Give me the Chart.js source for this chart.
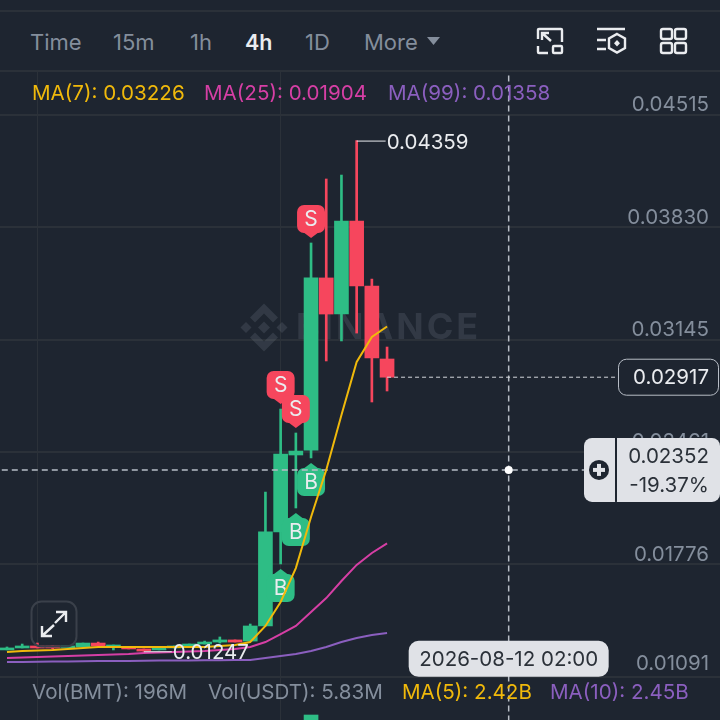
<!DOCTYPE html>
<html>
<head>
<meta charset="utf-8">
<script src="https://cdn.jsdelivr.net/npm/chart.js@4"></script>
<style>
  html, body { margin: 0; padding: 0; background: #1e2530; }
  body { width: 720px; height: 720px; position: relative; overflow: hidden; font-family: Inter, sans-serif; }
  #chartBox { position: absolute; left: 0; top: 72px; width: 720px; height: 648px; }
  .topline { position: absolute; left: 0; width: 720px; height: 2px; background: #2b3139; }
  .t { position: absolute; white-space: nowrap; line-height: 24px; }
  .tab { top: 30px; font-size: 22px; color: #848e9c; }
  .leg { font-size: 20.6px; }
  svg.ic { position: absolute; }
</style>
</head>
<body>
<div id="chartBox"><canvas id="myChart" width="720" height="648"></canvas></div>

<div class="topline" style="top:10px"></div>
<div class="topline" style="top:70px"></div>

<span class="t tab" style="left:30px">Time</span>
<span class="t tab" style="left:113px">15m</span>
<span class="t tab" style="left:190px">1h</span>
<span class="t tab" style="left:245px;color:#eaecef;font-weight:600;font-size:21.5px">4h</span>
<span class="t tab" style="left:305px">1D</span>
<span class="t tab" style="left:364px">More</span>
<svg class="ic" style="left:426px;top:37px" width="15" height="9"><path d="M1 0H14L7.5 8Z" fill="#848e9c"/></svg>

<svg class="ic" style="left:530px;top:22px" width="165" height="38" fill="none" stroke="#eaecef" stroke-width="2.4">
  <path d="M8 17V7.5Q8 7 9 7H31Q32 7 32 8V20M8 24V30Q8 31 9 31H18"/>
  <rect x="23" y="24" width="9" height="7" rx="1"/>
  <path d="M21 19L12 11M12 18V11H19"/>
  <path d="M67 7H95M67 18H76M67 27H76"/>
  <path d="M87 12L95 16.5V26L87 30.5L79 26V16.5Z"/>
  <path d="M87 18L90 21.3L87 24.5L84 21.3Z" fill="#eaecef" stroke="none"/>
  <rect x="131" y="7" width="11" height="10" rx="2"/>
  <rect x="145" y="7" width="11" height="10" rx="2"/>
  <rect x="131" y="21" width="11" height="10" rx="2"/>
  <rect x="145" y="21" width="11" height="10" rx="2"/>
</svg>

<span class="t leg" style="left:32px;top:81px;color:#f0b90b">MA(7): 0.03226</span>
<span class="t leg" style="left:204px;top:81px;color:#d63fa5">MA(25): 0.01904</span>
<span class="t leg" style="left:388px;top:81px;color:#8b5fbf">MA(99): 0.01358</span>

<span class="t leg" style="left:32px;top:680px;color:#848e9c">Vol(BMT): 196M</span>
<span class="t leg" style="left:208px;top:680px;color:#848e9c">Vol(USDT): 5.83M</span>
<span class="t leg" style="left:402px;top:680px;color:#f0b90b">MA(5): 2.42B</span>
<span class="t leg" style="left:550px;top:680px;color:#8b5fbf">MA(10): 2.45B</span>

<svg class="ic" style="left:30px;top:600px" width="48" height="48" fill="none">
  <rect x="1.5" y="1.5" width="45" height="45" rx="10" stroke="#3a404a" stroke-width="2"/>
  <path d="M12 36L24 25M12 26V36H22M36 12L25 23M26 12H36V22" stroke="#eaecef" stroke-width="2.4"/>
</svg>

<script>
// candles, oldest first
const times = ['07-29 14:00', '07-29 18:00', '07-29 22:00', '07-30 02:00', '07-30 06:00', '07-30 10:00', '07-30 14:00',
    '07-30 18:00', '07-30 22:00', '07-31 02:00', '07-31 06:00', '07-31 10:00', '07-31 14:00', '07-31 18:00',
    '07-31 22:00', '08-01 02:00', '08-01 06:00', '08-01 10:00', '08-01 14:00', '08-01 18:00', '08-01 22:00',
    '08-02 02:00', '08-02 06:00', '08-02 10:00', '08-02 14:00', '08-02 18:00'];
const opens = [0.01255, 0.01267, 0.01279, 0.01273, 0.01267, 0.01273, 0.01297, 0.01273, 0.01273, 0.01261, 0.01255, 0.01267, 0.01279,
    0.01291, 0.01303, 0.01316, 0.01309, 0.01401, 0.01974, 0.02443, 0.02473, 0.03522, 0.03302, 0.03869, 0.03473, 0.03028];
const highs = [0.01273, 0.01291, 0.01297, 0.01279, 0.01273, 0.01297, 0.01303, 0.01285, 0.01273, 0.01261, 0.01273, 0.01279, 0.01291,
    0.01309, 0.01334, 0.01316, 0.01413, 0.02217, 0.02723, 0.02577, 0.03735, 0.04125, 0.04149, 0.04359, 0.03515, 0.03101];
const lows = [0.01255, 0.01267, 0.01267, 0.01261, 0.01267, 0.01273, 0.01279, 0.01255, 0.01261, 0.01247, 0.01255, 0.01267, 0.01279,
    0.01291, 0.01297, 0.01303, 0.01309, 0.01401, 0.01779, 0.02120, 0.02425, 0.03016, 0.03138, 0.03186, 0.02766, 0.02833];
const closes = [0.01267, 0.01279, 0.01267, 0.01267, 0.01273, 0.01297, 0.01279, 0.01285, 0.01261, 0.01248, 0.01273, 0.01279, 0.01291,
    0.01303, 0.01316, 0.01303, 0.01401, 0.01974, 0.02449, 0.02467, 0.03522, 0.03302, 0.03869, 0.03473, 0.03034, 0.02917];

const ma7 = [0.01242, 0.01248, 0.01252, 0.01255, 0.01261, 0.01267, 0.01273, 0.01273, 0.01273, 0.01273, 0.01273, 0.01273, 0.01273,
    0.01273, 0.01279, 0.01285, 0.01303, 0.01401, 0.01547, 0.01754, 0.02065, 0.02352, 0.02687, 0.03010, 0.03162, 0.03226];
const ma25 = [0.01206, 0.01209, 0.01212, 0.01215, 0.01218, 0.01221, 0.01224, 0.01227, 0.01230, 0.01236, 0.01239, 0.01242, 0.01245,
    0.01248, 0.01255, 0.01261, 0.01273, 0.01303, 0.01352, 0.01401, 0.01486, 0.01571, 0.01675, 0.01773, 0.01846, 0.01904];
const ma99 = [0.01181, 0.01182, 0.01183, 0.01184, 0.01185, 0.01186, 0.01187, 0.01188, 0.01188, 0.01189, 0.01190, 0.01190, 0.01191,
    0.01192, 0.01192, 0.01193, 0.01194, 0.01206, 0.01218, 0.01230, 0.01248, 0.01273, 0.01303, 0.01328, 0.01346, 0.01358];

const yTicks = [0.04515, 0.03830, 0.03145, 0.02461, 0.01776, 0.01091];
const xGridAt = [2, 18];

const lastPrice = 0.02917;
const crossPrice = 0.02352;
const crossIndex = 33;
const crossPct = '-19.37%';
const crossTime = '2026-08-12 02:00';

// candle indexes that carry a sell / buy badge
const sellAt = [20, 18, 19];
const buyAt = [18, 19, 20];

// only the tallest volume bar pokes into the picture, in billions
const volIndex = [20];
const volValues = [7];

const GREEN = '#2ebd85';
const RED = '#f6465d';
const GREY = '#848e9c';
const FONT = 'Inter, sans-serif';

const candleColors = closes.map((c, i) => c >= opens[i] ? GREEN : RED);

function badge(ctx, x, tip, up, color, letter) {
    // tip = point of the arrow, body sits above it for sell, below it for buy
    const w = 28, h = 28;
    const top = up ? tip + 5 : tip - 5 - h;
    ctx.fillStyle = color;
    ctx.beginPath();
    ctx.roundRect(x - w / 2, top, w, h, 7);
    ctx.fill();
    ctx.beginPath();
    if (up) {
        ctx.moveTo(x - 8, top + 1);
        ctx.lineTo(x, tip);
        ctx.lineTo(x + 8, top + 1);
    } else {
        ctx.moveTo(x - 8, top + h - 1);
        ctx.lineTo(x, tip);
        ctx.lineTo(x + 8, top + h - 1);
    }
    ctx.fill();
    ctx.fillStyle = '#eaecef';
    ctx.font = '21px ' + FONT;
    ctx.textAlign = 'center';
    ctx.textBaseline = 'middle';
    ctx.fillText(letter, x, top + h / 2 + 1);
}

const extras = {
    id: 'extras',
    beforeDatasetsDraw(chart) {
        // watermark
        const ctx = chart.ctx;
        const y = chart.scales.y.getPixelForValue(0.0322);
        ctx.save();
        ctx.fillStyle = 'rgba(132,142,156,0.2)';
        const cx = 264;
        const diamond = (px, py, r) => {
            ctx.beginPath();
            ctx.moveTo(px - r, py);
            ctx.lineTo(px, py - r);
            ctx.lineTo(px + r, py);
            ctx.lineTo(px, py + r);
            ctx.fill();
        };
        diamond(cx, y, 6);
        diamond(cx - 18, y, 5.5);
        diamond(cx + 18, y, 5.5);
        ctx.beginPath();
        ctx.moveTo(cx, y - 24); ctx.lineTo(cx + 14, y - 10); ctx.lineTo(cx + 9, y - 5);
        ctx.lineTo(cx, y - 14); ctx.lineTo(cx - 9, y - 5); ctx.lineTo(cx - 14, y - 10);
        ctx.fill();
        ctx.beginPath();
        ctx.moveTo(cx, y + 24); ctx.lineTo(cx + 14, y + 10); ctx.lineTo(cx + 9, y + 5);
        ctx.lineTo(cx, y + 14); ctx.lineTo(cx - 9, y + 5); ctx.lineTo(cx - 14, y + 10);
        ctx.fill();
        ctx.font = 'bold 36px ' + FONT;
        ctx.letterSpacing = '3px';
        ctx.textAlign = 'left';
        ctx.textBaseline = 'middle';
        ctx.fillText('BINANCE', 296, y + 1);
        ctx.restore();
    },
    afterDatasetDraw(chart, args) {
        // badges go over the candles but under the MA lines
        if (args.index !== 1) return;
        const { x, y } = chart.scales;
        const ctx = chart.ctx;
        ctx.save();
        buyAt.forEach(i => badge(ctx, x.getPixelForValue(i), y.getPixelForValue(lows[i]) + 5, true, GREEN, 'B'));
        sellAt.forEach(i => badge(ctx, x.getPixelForValue(i), y.getPixelForValue(highs[i]) - 5, false, RED, 'S'));
        ctx.restore();
    },
    afterDraw(chart) {
        const { x, y } = chart.scales;
        const ctx = chart.ctx;
        ctx.save();

        // price axis labels sit above their grid line, the lowest one a little higher still
        ctx.font = '20.5px ' + FONT;
        ctx.fillStyle = GREY;
        ctx.textAlign = 'right';
        ctx.textBaseline = 'middle';
        yTicks.forEach((v, i) => ctx.fillText(v.toFixed(5), 709, y.getPixelForValue(v) - (i === 5 ? 13 : 10)));

        // high / low markers
        const hi = Math.max(...highs), lo = Math.min(...lows);
        const hiX = x.getPixelForValue(highs.indexOf(hi)), loX = x.getPixelForValue(lows.indexOf(lo));
        ctx.strokeStyle = '#eaecef';
        ctx.lineWidth = 1;
        ctx.beginPath();
        ctx.moveTo(hiX, y.getPixelForValue(hi) + 0.5);
        ctx.lineTo(hiX + 29, y.getPixelForValue(hi) + 0.5);
        ctx.moveTo(loX, y.getPixelForValue(lo) + 0.5);
        ctx.lineTo(loX + 28, y.getPixelForValue(lo) + 0.5);
        ctx.stroke();
        ctx.fillStyle = '#eaecef';
        ctx.textAlign = 'left';
        ctx.fillText(hi.toFixed(5), hiX + 30, y.getPixelForValue(hi) + 2);
        ctx.fillText(lo.toFixed(5), loX + 29, y.getPixelForValue(lo) + 2);

        // last price tag
        const lastY = y.getPixelForValue(lastPrice);
        ctx.fillStyle = '#1e2530';
        ctx.strokeStyle = '#b7bdc6';
        ctx.beginPath();
        ctx.roundRect(618.5, lastY - 18, 100, 36, 8);
        ctx.fill();
        ctx.stroke();
        ctx.fillStyle = '#eaecef';
        ctx.textAlign = 'right';
        ctx.fillText(lastPrice.toFixed(5), 709, lastY + 1);

        // crosshair dot and price box
        const crossY = y.getPixelForValue(crossPrice);
        const crossX = x.getPixelForValue(crossIndex);
        ctx.fillStyle = '#ffffff';
        ctx.beginPath();
        ctx.arc(crossX, crossY, 4, 0, Math.PI * 2);
        ctx.fill();

        ctx.fillStyle = '#e0e2e7';
        ctx.beginPath();
        ctx.roundRect(584, crossY - 32, 136, 64, 8);
        ctx.fill();
        ctx.fillStyle = '#1e2530';
        ctx.fillRect(615, crossY - 32, 2, 64);
        ctx.beginPath();
        ctx.arc(599, crossY, 10, 0, Math.PI * 2);
        ctx.fill();
        ctx.fillStyle = '#e0e2e7';
        ctx.fillRect(597, crossY - 6, 4, 12);
        ctx.fillRect(593, crossY - 2, 12, 4);
        ctx.fillStyle = '#2b3139';
        ctx.fillText(crossPrice.toFixed(5), 709, crossY - 13);
        ctx.fillText(crossPct, 709, crossY + 16);

        // date tag
        ctx.fillStyle = '#e0e2e7';
        ctx.beginPath();
        ctx.roundRect(crossX - 100, y.getPixelForValue(yTicks[5]) - 36, 200, 36, 10);
        ctx.fill();
        ctx.fillStyle = '#2b3139';
        ctx.textAlign = 'center';
        ctx.fillText(crossTime, crossX, y.getPixelForValue(yTicks[5]) - 17);
        ctx.restore();
    }
};

const config = {
    data: {
        datasets: [
            {
                type: 'bar',
                label: 'wicks',
                order: 4,
                grouped: false,
                barThickness: 2,
                backgroundColor: candleColors,
                data: times.map((t, i) => ({ x: i, y: [lows[i], highs[i]] }))
            },
            {
                type: 'bar',
                label: 'bodies',
                order: 3,
                grouped: false,
                barThickness: 14,
                minBarLength: 2,
                backgroundColor: candleColors,
                data: times.map((t, i) => ({ x: i, y: [opens[i], closes[i]] }))
            },
            {
                type: 'bar',
                label: 'volume',
                order: 5,
                grouped: false,
                yAxisID: 'yVol',
                barThickness: 14,
                backgroundColor: GREEN,
                data: volIndex.map((idx, i) => ({ x: idx, y: volValues[i] }))
            },
            { type: 'line', label: 'MA(99)', order: 2, borderColor: '#8b5fbf', borderWidth: 2, pointRadius: 0, data: ma99.map((v, i) => ({ x: i, y: v })) },
            { type: 'line', label: 'MA(25)', order: 2, borderColor: '#d63fa5', borderWidth: 2, pointRadius: 0, data: ma25.map((v, i) => ({ x: i, y: v })) },
            { type: 'line', label: 'MA(7)', order: 1, borderColor: '#f0b90b', borderWidth: 2, pointRadius: 0, data: ma7.map((v, i) => ({ x: i, y: v })) },
            {
                type: 'line', label: 'last', order: 1, borderColor: '#d5d8dd', borderWidth: 1, borderDash: [4, 3], pointRadius: 0,
                data: [{ x: times.length - 1, y: lastPrice }, { x: 40, y: lastPrice }]
            },
            {
                type: 'line', label: 'crossH', order: 1, borderColor: '#b7bdc6', borderWidth: 1.5, borderDash: [6, 4], pointRadius: 0,
                data: [{ x: -1, y: crossPrice }, { x: 47, y: crossPrice }]
            },
            {
                type: 'line', label: 'crossV', order: 1, borderColor: '#b7bdc6', borderWidth: 1.5, borderDash: [6, 4], pointRadius: 0,
                data: [{ x: crossIndex, y: 0.05 }, { x: crossIndex, y: 0.005 }]
            }
        ]
    },
    options: {
        responsive: false,
        animation: false,
        events: [],
        layout: { padding: 0 },
        plugins: { legend: { display: false }, tooltip: { enabled: false } },
        scales: {
            x: {
                type: 'linear',
                offset: false,
                min: -0.46,
                max: 46.9,
                afterBuildTicks: s => { s.ticks = xGridAt.map(v => ({ value: v })); },
                ticks: { display: false },
                grid: { offset: false, color: '#2b3139', drawTicks: false },
                border: { display: false }
            },
            y: {
                min: 0.00828,
                max: 0.04777,
                afterBuildTicks: s => { s.ticks = yTicks.map(v => ({ value: v })); },
                ticks: { display: false },
                grid: { color: '#2b3139', lineWidth: 2, drawTicks: false },
                border: { display: false }
            },
            yVol: {
                display: false,
                min: 0,
                max: 907
            }
        }
    },
    plugins: [extras]
};

const chart = new Chart(document.getElementById('myChart'), config);
</script>
</body>
</html>
